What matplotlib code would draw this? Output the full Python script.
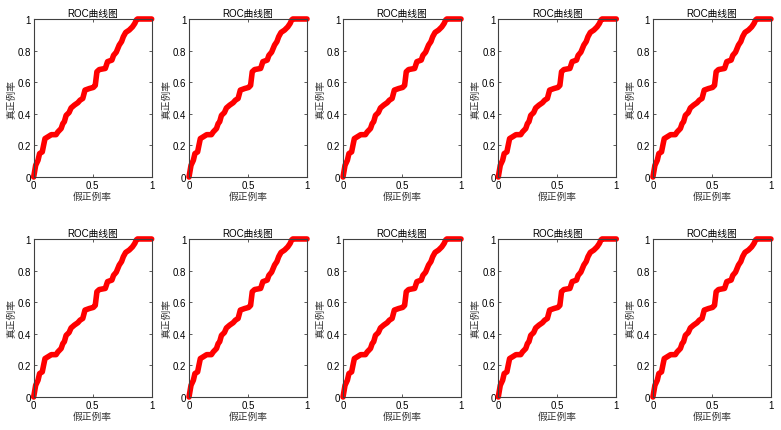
import matplotlib.pyplot as plt
import numpy as np

plt.rcParams['font.family'] = ['Liberation Sans', 'Noto Sans CJK SC', 'DejaVu Sans']

# ROC 曲线 (假正例率, 真正例率)
fpr = [0.0, 0.017, 0.037, 0.05, 0.073, 0.084, 0.096, 0.12, 0.15, 0.19, 0.205,
       0.233, 0.247, 0.26, 0.275, 0.30, 0.317, 0.345, 0.374, 0.393, 0.416,
       0.435, 0.472, 0.506, 0.522, 0.536, 0.556, 0.607, 0.626, 0.663, 0.677,
       0.70, 0.725, 0.745, 0.76, 0.78, 0.81, 0.837, 0.857, 0.87, 0.88, 1.0]
tpr = [0.0, 0.074, 0.106, 0.148, 0.159, 0.20, 0.243, 0.254, 0.268, 0.268, 0.285,
       0.307, 0.338, 0.35, 0.39, 0.408, 0.437, 0.455, 0.47, 0.486, 0.497,
       0.55, 0.56, 0.567, 0.58, 0.666, 0.68, 0.687, 0.73, 0.74, 0.77,
       0.79, 0.835, 0.857, 0.888, 0.915, 0.93, 0.95, 0.972, 0.994, 1.0, 1.0]

title = 'ROC曲线图'
xlab = '假正例率'
ylab = '真正例率'
xticks = [0, 0.5, 1]
xticklabels = ['0', '0.5', '1']
yticks = [0, 0.2, 0.4, 0.6, 0.8, 1]
yticklabels = ['0', '0.2', '0.4', '0.6', '0.8', '1']

fig = plt.figure(figsize=(7.81, 4.31), dpi=100)

lefts = [0.0431, 0.242, 0.4392, 0.638, 0.836]
bottoms = [0.587, 0.0766]
w, h = 0.1511, 0.3666

for b in bottoms:
    for l in lefts:
        ax = fig.add_axes([l, b, w, h])
        ax.plot(fpr, tpr, color='red', lw=4, clip_on=False, solid_capstyle='round')
        ax.set_xlim(0, 1)
        ax.set_ylim(0, 1)
        ax.set_xticks(xticks)
        ax.set_xticklabels(xticklabels)
        ax.set_yticks(yticks)
        ax.set_yticklabels(yticklabels)
        ax.tick_params(direction='in', top=True, right=True, length=2.5,
                       width=0.6, labelsize=7, pad=2, color='#404040')
        for s in ax.spines.values():
            s.set_color('#404040')
            s.set_linewidth(0.8)
        ax.set_title(title, fontsize=7, pad=2, family=['Liberation Sans', 'Noto Sans CJK SC'])
        ax.set_xlabel(xlab, fontsize=7, labelpad=1, color='#333333',
                      family=['Noto Sans CJK SC'])
        ax.set_ylabel(ylab, fontsize=7, labelpad=1, color='#333333',
                      family=['Noto Sans CJK SC'])

fig.savefig('out.png', dpi=100)
